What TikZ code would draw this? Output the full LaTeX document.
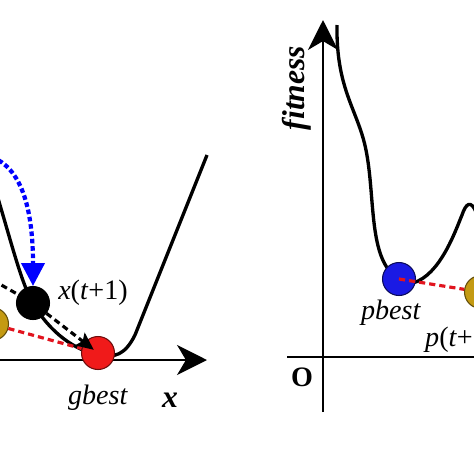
\documentclass[tikz,border=0pt]{standalone}
\usepackage{fontspec}
\setmainfont{Liberation Serif}
\usetikzlibrary{arrows.meta}
\definecolor{ballred}{RGB}{240,26,26}
\definecolor{ballblue}{RGB}{26,26,228}
\definecolor{ballolive}{RGB}{196,154,18}
\definecolor{dashred}{RGB}{225,20,30}
\tikzset{
  ball/.style={circle,draw,line width=0.6pt,inner sep=0pt,minimum size=0.66cm},
  curve/.style={line width=1.9pt},
  axis/.style={line width=1.7pt},
  axisarrow/.style={axis,-{Stealth[length=17pt,width=17pt,inset=5pt]}},
  reddash/.style={dashred,line width=1.8pt,dash pattern=on 3.5pt off 2.3pt},
  blackdash/.style={line width=1.8pt,dash pattern=on 3.5pt off 2.3pt},
  bluedot/.style={blue,line width=2.4pt,dash pattern=on 2.6pt off 1.6pt},
  lbl/.style={font=\fontsize{16}{18}\selectfont},
  axlbl/.style={font=\fontsize{18}{20}\selectfont\bfseries\itshape},
}
\begin{document}
\begin{tikzpicture}[x=0.02cm,y=-0.02cm]
  \useasboundingbox (0,0) rectangle (474,474);
  \clip (0,0) rectangle (474,474);
  % left panel
  \draw[axisarrow] (-10,360) -- (207,360);
  \draw[curve] (-3,195) .. controls (12,245) and (22,285) .. (33,303)
    .. controls (50,333) and (75,350) .. (98,355)
    .. controls (115,358) and (125,355) .. (135,335) -- (207,155);
  \node[ball,fill=ballolive,draw=ballolive!50!black] (olive1) at (-8,324) {};
  \node[ball,fill=black] (xnew) at (33,303) {};
  \node[ball,fill=ballred,draw=ballred!45!black] (gbest) at (98,353) {};
  \coordinate (xold) at (-25,270);
  \coordinate (bstart) at (-8,157);
  \draw[blackdash] (xold) -- (xnew);
  \draw[reddash] (olive1) -- (gbest);
  \draw[blackdash,-{Stealth[length=10pt,width=9pt,inset=2pt]},shorten >=3pt] (xnew) -- (gbest.center);
  \draw[bluedot,-{Triangle[length=13pt,width=13pt]}] (bstart) .. controls (20,168) and (33,205) .. (xnew.north);
  \node[lbl] (xnewlbl) at (93,293) {\textit{x}(\textit{t}+1)};
  \node[lbl] (gbestlbl) at (98,398) {\textit{gbest}};
  \node[axlbl] (xlbl) at (170,400) {x};
  % right panel
  \draw[axis] (287,357) -- (480,357);
  \draw[axisarrow] (323,412) -- (323,20);
  \draw[curve] (337,25) .. controls (336,90) and (358,110) .. (366,150)
    .. controls (374,190) and (370,240) .. (386,266)
    .. controls (392,277) and (402,284) .. (413,283)
    .. controls (440,275) and (455,232) .. (462,215)
    .. controls (466,203) and (471,200) .. (476,212) -- (490,245);
  \node[ball,fill=ballblue,draw=ballblue!40!black] (pbest) at (399,279) {};
  \node[ball,fill=ballolive,draw=ballolive!50!black] (olive2) at (481,292) {};
  \draw[reddash] (pbest.center) -- (olive2);
  \node[lbl] (pbestlbl) at (391,313) {\textit{pbest}};
  \node[lbl,anchor=west] (pnewlbl) at (419,340) {\textit{p}(\textit{t}+1)};
  \node[axlbl,rotate=90] (fitlbl) at (297,88) {fitness};
  \node[font=\fontsize{16}{18}\selectfont\bfseries] (origin) at (302,377) {O};
\end{tikzpicture}
\end{document}
